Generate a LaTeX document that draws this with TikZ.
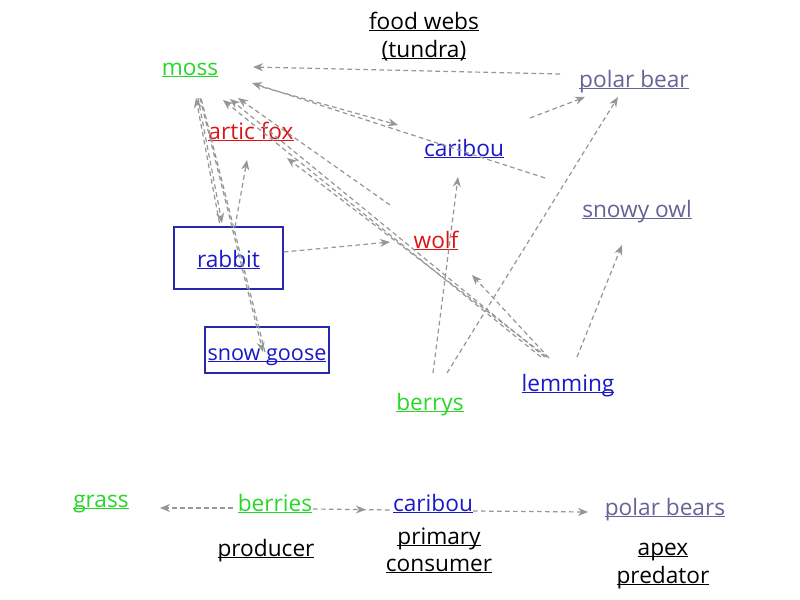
\documentclass[tikz,border=0pt]{standalone}
\usepackage{fontspec}
\setmainfont{Open Sans}
\usetikzlibrary{arrows.meta,decorations.markings}
\definecolor{cgreen}{RGB}{40,215,40}
\definecolor{cred}{RGB}{220,20,20}
\definecolor{cblue}{RGB}{25,25,200}
\definecolor{cpurple}{RGB}{100,100,150}
\definecolor{cgray}{RGB}{150,150,150}
\definecolor{cbox}{RGB}{40,40,175}
\newcommand\myul[1]{\setbox0=\hbox{#1}\rlap{\rule[-0.1em]{\wd0}{0.075em}}\box0}
\tikzset{
  lbl/.style={anchor=base, inner sep=0pt, font=\fontsize{17}{20}\selectfont},
  boxed/.style={draw=cbox, line width=1.1pt, inner sep=0pt, font=\fontsize{17}{20}\selectfont, text=cblue},
  link/.style={draw=cgray, line width=0.9pt, dash pattern=on 3.5pt off 2.5pt, -{Stealth[length=7.5pt,width=6pt]}},
  plainlink/.style={draw=cgray, line width=0.9pt, dash pattern=on 3.5pt off 2.5pt},
  midarrow/.style={draw=cgray, line width=0.9pt, dash pattern=on 3.5pt off 2.5pt,
    decoration={markings, mark=at position #1 with {\arrow[solid]{Stealth[length=7.5pt,width=6pt]}}}, postaction={decorate}}
}
\begin{document}
\begin{tikzpicture}[x=0.75pt,y=-0.75pt]
\useasboundingbox[fill=white] (0,0) rectangle (800,600);
% labels
\node[lbl] (foodwebs) at (424,29) {\myul{food webs}};
\node[lbl] (tundra) at (424,57) {\myul{(tundra)}};
\node[lbl, text=cgreen] (moss) at (190,75) {\myul{moss}};
\node[lbl, text=cpurple] (polarbear) at (634,87) {\myul{polar bear}};
\node[lbl, text=cred] (articfox) at (251,139) {\myul{artic fox}};
\node[lbl, text=cblue] (caribou) at (464,156) {\myul{caribou}};
\node[lbl, text=cpurple] (snowyowl) at (637,217) {\myul{snowy owl}};
\node[lbl, text=cred] (wolf) at (436,248) {\myul{wolf}};
\node[boxed, minimum width=109*0.75pt, minimum height=62*0.75pt, text height=13.5pt, text depth=0pt] (rabbit) at (228.5,258) {\myul{rabbit}};
\node[boxed, font=\fontsize{16.2}{19}\selectfont, minimum width=124*0.75pt, minimum height=46*0.75pt, text height=15pt, text depth=0pt] (snowgoose) at (267,350) {\myul{snow goose}};
\node[lbl, text=cgreen] (berrys) at (430,410) {\myul{berrys}};
\node[lbl, text=cblue] (lemming) at (568,391) {\myul{lemming}};
% bottom chain
\node[lbl, text=cgreen] (grass) at (101,507) {\myul{grass}};
\node[lbl, text=cgreen] (berries) at (275,511) {\myul{berries}};
\node[lbl, text=cblue] (caribou2) at (433,511) {\myul{caribou}};
\node[lbl, text=cpurple] (polarbears) at (665,515) {\myul{polar bears}};
\node[lbl] (producer) at (266,556) {\myul{producer}};
\node[lbl] (primary) at (439,544) {\myul{primary}};
\node[lbl] (consumer) at (439,571) {\myul{consumer}};
\node[lbl] (apex) at (663,555) {\myul{apex}};
\node[lbl] (predator) at (663,583) {\myul{predator}};
% web connectors
\draw[link] ([shift={(-74,-13)}]polarbear.base) -- ([shift={(63,-8)}]moss.base);
\draw[link] ([shift={(81,22)}]caribou.base) -- ([shift={(62,8)}]moss.base);
\draw[link] ([shift={(65,10)}]moss.base) -- ([shift={(-66,-31)}]caribou.base);
\draw[link] ([shift={(8,23)}]moss.base) -- ([shift={(-6.5,-35)}]rabbit.center);
\draw[link] ([shift={(-9,-35)}]rabbit.center) -- ([shift={(6,23)}]moss.base);
\draw[link] ([shift={(10,23)}]moss.base) -- ([shift={(-4,2)}]snowgoose.center);
\draw[plainlink] ([shift={(-2,2)}]snowgoose.center) -- ([shift={(11,23)}]moss.base);
\draw[link] ([shift={(6.5,-31)}]rabbit.center) -- ([shift={(-4,21)}]articfox.base);
\draw[link] (rabbit.east |- 0,252) -- ([shift={(-46,-6)}]wolf.base);
\draw[link] ([shift={(-46,-43)}]wolf.base) -- ([shift={(48,23)}]moss.base);
\draw[link] ([shift={(-27,-34)}]lemming.base) -- ([shift={(33,25)}]moss.base);
\draw[link] ([shift={(-23,-34)}]lemming.base) -- ([shift={(40,24)}]moss.base);
\draw[link] ([shift={(-21,-34)}]lemming.base) -- ([shift={(36,19)}]articfox.base);
\draw[link] ([shift={(-19,-33)}]lemming.base) -- ([shift={(36,27)}]wolf.base);
\draw[link] ([shift={(9,-34)}]lemming.base) -- ([shift={(-15,28)}]snowyowl.base);
\draw[link] ([shift={(3,-37)}]berrys.base) -- ([shift={(-6,21)}]caribou.base);
\draw[link] ([shift={(17,-37)}]berrys.base) -- ([shift={(-16,10)}]polarbear.base);
\draw[link] ([shift={(66,-38)}]caribou.base) -- ([shift={(-49,10)}]polarbear.base);
% bottom connectors
\draw[link] ([shift={(-42,-3)}]berries.base) -- ([shift={(59,1)}]grass.base);
\draw[midarrow=0.66] ([shift={(38,-2)}]berries.base) -- ([shift={(-40,-1)}]caribou2.base);
\draw[link] ([shift={(40,0)}]caribou2.base) -- ([shift={(-77,-3)}]polarbears.base);
\end{tikzpicture}
\end{document}
